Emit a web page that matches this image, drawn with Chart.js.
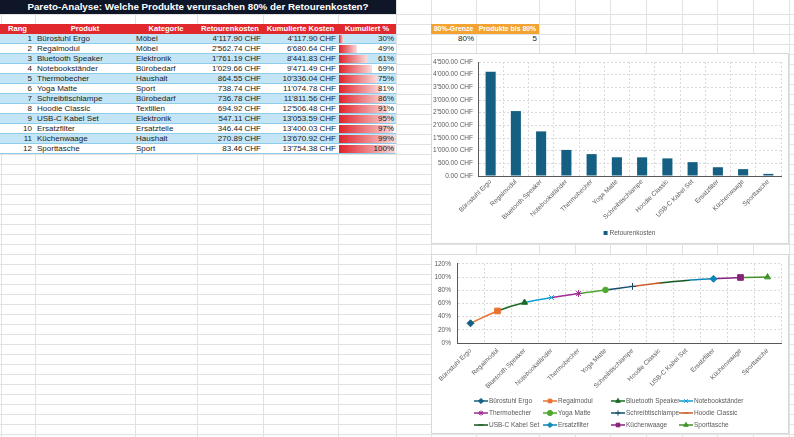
<!DOCTYPE html>
<html>
<head>
<meta charset="utf-8">
<script src="https://cdn.jsdelivr.net/npm/chart.js@4.4.1/dist/chart.umd.min.js"></script>
<style>
  body { margin:0; width:794px; height:437px; overflow:hidden; position:relative; background:#fff;
         font-family:"Liberation Sans", Arial, sans-serif; }
  #rows { position:absolute; left:0; top:5px; width:794px; height:432px;
          background-image:repeating-linear-gradient(to bottom, transparent 0, transparent 9px, #e2e2e2 9px, #e2e2e2 10px); }
  .vl { position:absolute; top:0; width:1px; height:437px; background:#e2e2e2; }
  .cell { position:absolute; height:10px; line-height:10px; font-size:8px; color:#1b1b1b; white-space:nowrap; box-sizing:border-box; }
  #title { position:absolute; left:0; top:0; width:396px; height:14px; background:#0e1628; color:#fff;
           font-weight:bold; font-size:9.8px; line-height:14px; text-align:center; }
  .box { position:absolute; background:#fff; border:1px solid #d9d9d9; box-sizing:border-box; }
  canvas { position:absolute; }
</style>
</head>
<body>
<div id="rows"></div>
<div id="title">Pareto-Analyse: Welche Produkte verursachen 80% der Retourenkosten?</div>
<div id="sheet"></div>
<div class="box" style="left:431px;top:53px;width:358px;height:191px"></div>
<div class="box" style="left:431px;top:254px;width:358px;height:180px"></div>
<canvas id="bars" width="358" height="191" style="left:431px;top:53px"></canvas>
<canvas id="pareto" width="358" height="180" style="left:431px;top:254px"></canvas>

<script>
const products = ['Bürostuhl Ergo', 'Regalmodul', 'Bluetooth Speaker', 'Notebookständer', 'Thermobecher', 'Yoga Matte',
  'Schreibtischlampe', 'Hoodie Classic', 'USB-C Kabel Set', 'Ersatzfilter', 'Küchenwaage', 'Sporttasche'];
const kategorien = ['Möbel', 'Möbel', 'Elektronik', 'Bürobedarf', 'Haushalt', 'Sport',
  'Bürobedarf', 'Textilien', 'Elektronik', 'Ersatzteile', 'Haushalt', 'Sport'];
const retourenkosten = [4117.90, 2562.74, 1761.19, 1029.66, 864.55, 738.74, 736.78, 694.92, 547.11, 346.44, 270.89, 83.46];
const kumKosten = [4117.90, 6680.64, 8441.83, 9471.49, 10336.04, 11074.78, 11811.56, 12506.48, 13053.59, 13400.03, 13670.92, 13754.38];
const kumProzent = [29.9, 48.6, 61.4, 68.9, 75.1, 80.5, 85.9, 90.9, 94.9, 97.4, 99.4, 100];
const kopfzeile = ['Rang', 'Produkt', 'Kategorie', 'Retourenkosten', 'Kumulierte Kosten', 'Kumuliert %'];
const grenze = '80%';
const produkteBis80 = 5;
const kostenMax = 4500, kostenStep = 500;
const prozentMax = 120, prozentStep = 20;

const farben = ['#156082', '#E97132', '#196B24', '#0F9ED5', '#A02B93', '#4EA72E',
  '#124f6b', '#c95f29', '#14571d', '#0c86b8', '#87237b', '#43922a'];
const marker = ['rectRot', 'rect', 'triangle', 'crossRot', 'star', 'circle', 'cross', 'line', 'line', 'rectRot', 'rect', 'triangle'];
const markerRadius = [3.5, 4, 3.5, 3.5, 3.5, 2.8, 3.5, 3, 3, 3.5, 4, 3.5];

function chf(v) {
  const [i, d] = Number(v).toFixed(2).split('.');
  return i.replace(/\B(?=(\d{3})+(?!\d))/g, "'") + '.' + d + ' CHF';
}

// spreadsheet grid columns
[1, 35, 135, 197, 263, 338, 396, 431, 476, 539, 575, 610, 646, 682, 717, 753, 789].forEach(x => {
  const d = document.createElement('div');
  d.className = 'vl'; d.style.left = x + 'px';
  document.body.insertBefore(d, document.getElementById('title'));
});

// table
const sheet = document.getElementById('sheet');
const cols = [0, 35, 135, 197, 263, 338, 396];
function cell(x, y, w, text, css) {
  const d = document.createElement('div');
  d.className = 'cell';
  d.style.left = x + 'px'; d.style.top = y + 'px'; d.style.width = w + 'px';
  if (css) Object.assign(d.style, css);
  d.textContent = text;
  sheet.appendChild(d);
  return d;
}
// header row
cell(0, 24, 396, '', { background: '#e1282d' });
kopfzeile.forEach((t, c) => {
  cell(cols[c], 24, cols[c + 1] - cols[c], t, { color: '#fff', fontWeight: 'bold', textAlign: 'center', fontSize: '7.6px' });
});
products.forEach((p, i) => {
  const y = 34 + i * 10;
  cell(0, y, 396, '', { background: i % 2 === 0 ? '#c3e5f6' : '#fff', borderBottom: '1px solid #8fcbea', height: '10px' });
  // data bar
  const w = Math.max(3, (kumProzent[i] - 24) / 76 * 56);
  cell(339, y + 1, w, '', { height: '8px', background: 'linear-gradient(to right, #e0222a, #f9dcdc)' });
  cell(cols[0], y, 34, String(i + 1), { textAlign: 'right', paddingRight: '2px' });
  cell(cols[1], y, 100, p, { paddingLeft: '2px' });
  cell(cols[2], y, 62, kategorien[i], { paddingLeft: '1px' });
  cell(cols[3], y, 66, chf(retourenkosten[i]), { textAlign: 'right', paddingRight: '2px' });
  cell(cols[4], y, 75, chf(kumKosten[i]), { textAlign: 'right', paddingRight: '2px' });
  cell(cols[5], y, 58, Math.round(kumProzent[i]) + '%', { textAlign: 'right', paddingRight: '2px' });
});
// 80% box
cell(431, 24, 108, '', { background: '#f2a331' });
cell(431, 24, 45, '80%-Grenze', { color: '#fff', fontWeight: 'bold', textAlign: 'center', fontSize: '6.9px' });
cell(476, 24, 63, 'Produkte bis 80%', { color: '#fff', fontWeight: 'bold', textAlign: 'center', fontSize: '6.9px' });
cell(431, 34, 45, grenze, { textAlign: 'right', paddingRight: '2px' });
cell(476, 34, 63, String(produkteBis80), { textAlign: 'right', paddingRight: '2px' });

Chart.defaults.font.family = '"Liberation Sans", Arial, sans-serif';
Chart.defaults.font.size = 6.5;
Chart.defaults.color = '#595959';

const gridOpts = { color: '#d9d9d9', drawTicks: false };
const borderOpts = { color: '#595959', dash: [2, 2] };

const legend1 = {
  id: 'legend1',
  afterDraw(chart) {
    const ctx = chart.ctx;
    ctx.save();
    ctx.font = '6.5px "Liberation Sans", Arial, sans-serif';
    ctx.textBaseline = 'middle';
    const label = chart.data.datasets[0].label;
    const tw = ctx.measureText(label).width;
    const x = (chart.chartArea.left + chart.chartArea.right) / 2 - (tw + 6) / 2;
    const y = 180;
    ctx.fillStyle = chart.data.datasets[0].backgroundColor;
    ctx.fillRect(x, y - 2, 4, 4);
    ctx.fillStyle = '#595959';
    ctx.fillText(label, x + 6, y);
    ctx.restore();
  }
};

new Chart(document.getElementById('bars'), {
  type: 'bar',
  data: {
    labels: products,
    datasets: [{
      label: 'Retourenkosten',
      data: retourenkosten,
      backgroundColor: '#156082',
      barPercentage: 0.4,
      categoryPercentage: 1
    }]
  },
  options: {
    responsive: false,
    animation: false,
    layout: { padding: { left: 0, top: 9, right: 8, bottom: 22 } },
    plugins: { legend: { display: false }, tooltip: { enabled: false } },
    scales: {
      x: {
        grid: { ...gridOpts, offset: true },
        border: borderOpts,
        ticks: { minRotation: 45, maxRotation: 45, autoSkip: false, padding: 2 },
        afterFit: s => { s.height = 46; }
      },
      y: {
        min: 0, max: kostenMax,
        grid: gridOpts,
        border: borderOpts,
        ticks: { stepSize: kostenStep, padding: 5, callback: v => chf(v) },
        afterFit: s => { s.width = 47; }
      }
    }
  },
  plugins: [legend1]
});

const legend2 = {
  id: 'legend2',
  afterDraw(chart) {
    const ctx = chart.ctx;
    const colX = [43, 112, 180, 248];
    const rowY = [147, 159, 171];
    ctx.save();
    ctx.font = '6.5px "Liberation Sans", Arial, sans-serif';
    ctx.textBaseline = 'middle';
    chart.data.labels.forEach((p, i) => {
      const x = colX[i % 4], y = rowY[Math.floor(i / 4)];
      ctx.strokeStyle = farben[i];
      ctx.fillStyle = farben[i];
      ctx.lineWidth = 1.5;
      ctx.beginPath(); ctx.moveTo(x, y); ctx.lineTo(x + 14, y); ctx.stroke();
      ctx.lineWidth = 1;
      Chart.helpers.drawPoint(ctx, { pointStyle: marker[i], radius: 2.6, rotation: 0, borderWidth: 1 }, x + 7, y);
      ctx.fillStyle = '#595959';
      ctx.fillText(p, x + 15, y);
    });
    ctx.restore();
  }
};

new Chart(document.getElementById('pareto'), {
  type: 'line',
  data: {
    labels: products,
    datasets: [{
      label: 'Kumuliert %',
      data: kumProzent,
      borderWidth: 1.5,
      tension: 0.35,
      borderColor: farben[0],
      segment: { borderColor: c => farben[c.p1DataIndex] },
      pointStyle: marker,
      pointRadius: markerRadius,
      pointBorderWidth: 1,
      pointBackgroundColor: farben,
      pointBorderColor: farben
    }]
  },
  options: {
    responsive: false,
    animation: false,
    layout: { padding: { left: 0, top: 8, right: 8, bottom: 45 } },
    plugins: { legend: { display: false }, tooltip: { enabled: false } },
    scales: {
      x: {
        offset: true,
        grid: { ...gridOpts, offset: true },
        border: borderOpts,
        ticks: { minRotation: 45, maxRotation: 45, autoSkip: false, padding: 4 },
        afterFit: s => { s.height = 46; }
      },
      y: {
        min: 0, max: prozentMax,
        grid: gridOpts,
        border: borderOpts,
        ticks: { stepSize: prozentStep, padding: 6, callback: v => v + '%' },
        afterFit: s => { s.width = 26; }
      }
    }
  },
  plugins: [legend2]
});
</script>
</body>
</html>
